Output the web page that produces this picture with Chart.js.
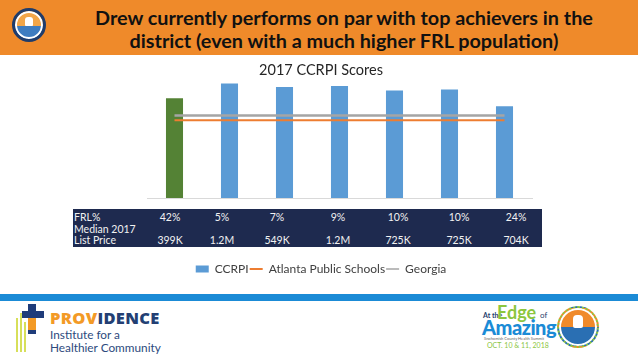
<!DOCTYPE html>
<html>
<head>
<meta charset="utf-8">
<script src="https://cdn.jsdelivr.net/npm/chart.js@4.4.1/dist/chart.umd.min.js"></script>
<style>
  html, body { margin: 0; padding: 0; }
  body { width: 638px; height: 359px; overflow: hidden; position: relative; background: #fff; font-family: Lato, "Open Sans", sans-serif; }
  .header { position: absolute; left: 0; top: 0; width: 638px; height: 55px; background: #ef8a2a; }
  .header h1 { position: absolute; left: 50px; right: 0; top: 6px; margin: 0; text-align: center; font-size: 19.8px; line-height: 23px; font-weight: 700; color: #111; }
  .seal { position: absolute; left: 12px; top: 8px; width: 28px; height: 28px; border-radius: 50%; border: 3px solid #1f3c6b;
    background: linear-gradient(#f2a649 0 52%, #3d7cc0 52% 100%); box-shadow: inset 0 0 0 2px #fff; }
  .seal i { position: absolute; left: 10px; top: 6px; width: 8px; height: 9px; background: #fff; border-radius: 3px 3px 1px 1px; }
  #chartBox { position: absolute; left: 0; top: 55px; width: 642px; height: 230px; }
  .ftable { position: absolute; left: 73px; top: 209px; width: 469px; height: 38px; background: #1e2a4f; color: #f2f2f2; font-size: 10.5px; line-height: 11.5px; }
  .ftable span { position: absolute; white-space: nowrap; }
  .band { position: absolute; left: 0; top: 294px; width: 638px; height: 7px; background: #1b8bd6; }
  .prov { position: absolute; left: 50px; top: 309px; color: #233f73; }
  .prov b { display: block; font-family: "Open Sans", sans-serif; font-weight: 800; font-size: 16.5px; line-height: 18px; letter-spacing: 0.3px; margin-bottom: 1px; }
  .prov b em { font-style: normal; color: #f39a26; }
  .prov div { font-size: 11.8px; line-height: 13px; color: #2d4a7d; }
  .cross { position: absolute; left: 22px; top: 304px; }
  .cross .v { position: absolute; left: 6px; top: 0; width: 8px; height: 30px; background: #1f3c7a; }
  .cross .h { position: absolute; left: 0; top: 7px; width: 22px; height: 7px; background: #1f3c7a; }
  .cross .o { position: absolute; left: 6px; top: 14px; width: 8px; height: 12px; background: #f39a26; }
  .stem { position: absolute; width: 2px; background: #d7df5a; }
  .edge { position: absolute; left: 482px; top: 303px; width: 80px; height: 48px; }
  .edge .at { position: absolute; left: 1px; top: 8px; font-size: 7px; font-weight: 700; color: #1f3c6b; }
  .edge .eg { position: absolute; left: 15px; top: 0; font-size: 18px; font-weight: 700; color: #8cc63f; line-height: 18px; }
  .edge .of { position: absolute; left: 58px; top: 7px; font-size: 8px; color: #1f3c6b; }
  .edge .am { position: absolute; left: 0; top: 14px; font-size: 20px; font-weight: 900; color: #1b8bd6; line-height: 20px; letter-spacing: -0.5px; }
  .edge .sm { position: absolute; left: 2px; top: 33px; font-size: 4px; color: #666; }
  .edge .dt { position: absolute; left: 5px; top: 38px; font-size: 7px; color: #8cc63f; }
  .ring { position: absolute; left: 557px; top: 306px; width: 38px; height: 38px; border-radius: 50%; border: 2px dotted #8cc63f;
    background: linear-gradient(#f08a2a 0 50%, #2a6fb3 50% 100%); box-shadow: inset 0 0 0 2px #fff; }
  .ring i { position: absolute; left: 14px; top: 7px; width: 10px; height: 13px; background: #fff; border-radius: 4px 4px 2px 2px; }
</style>
</head>
<body>
<div class="header">
  <div class="seal"><i></i></div>
  <h1>Drew currently performs on par with top achievers in the<br>district (even with a much higher FRL population)</h1>
</div>
<div id="chartBox"><canvas id="ccrpiChart" width="642" height="230"></canvas></div>
<div class="ftable" id="frlTable"></div>
<div class="band"></div>
<div class="stem" style="left:16px;top:318px;height:34px"></div>
<div class="stem" style="left:20px;top:313px;height:39px"></div>
<div class="stem" style="left:24px;top:322px;height:30px"></div>
<div class="cross"><div class="v"></div><div class="h"></div><div class="o"></div></div>
<div class="prov">
  <b><em>PROV</em>IDENCE</b>
  <div>Institute for a</div>
  <div>Healthier Community</div>
</div>
<div class="edge">
  <span class="at">At the</span><span class="eg">Edge</span><span class="of">of</span>
  <span class="am">Amazing</span>
  <span class="sm">Snohomish County Health Summit</span>
  <span class="dt">OCT. 10 &amp; 11, 2018</span>
</div>
<div class="ring"><i></i></div>

<script>
const frlPct = ['42%', '5%', '7%', '9%', '10%', '10%', '24%'];
const listPrice = ['399K', '1.2M', '549K', '1.2M', '725K', '725K', '704K'];
const rowHeads = ['FRL%', 'Median 2017', 'List Price'];
const ccrpi = [87.4, 100.4, 97.4, 98.3, 94.3, 95.2, 80.5];
const apsScore = [68.1, 68.1, 68.1, 68.1, 68.1, 68.1, 68.1];
const gaScore = [72.3, 72.3, 72.3, 72.3, 72.3, 72.3, 72.3];

const GREEN = '#548235';
const BLUE = '#5b9bd5';
const ORANGE = '#ed7d31';
const GRAY = '#a5a5a5';

// table column centres (page px), the pasted table does not line up with the bars
const colCenters = [170, 222, 277, 338, 398, 459, 516];

const table = document.getElementById('frlTable');
rowHeads.forEach((txt, r) => {
  table.insertAdjacentHTML('beforeend', `<span style="left:1px;top:${3 + r * 11.5}px">${txt}</span>`);
});
frlPct.forEach((txt, i) => {
  table.insertAdjacentHTML('beforeend', `<span style="left:${colCenters[i] - 73}px;top:3px;transform:translateX(-50%)">${txt}</span>`);
});
listPrice.forEach((txt, i) => {
  table.insertAdjacentHTML('beforeend', `<span style="left:${colCenters[i] - 73}px;top:26px;transform:translateX(-50%)">${txt}</span>`);
});

const barColors = ccrpi.map((_, i) => (i === 0 ? GREEN : BLUE));

new Chart(document.getElementById('ccrpiChart'), {
  type: 'bar',
  data: {
    labels: frlPct,
    datasets: [
      {
        type: 'bar',
        label: 'CCRPI',
        data: ccrpi,
        backgroundColor: barColors,
        barPercentage: 0.31,
        categoryPercentage: 1,
        order: 1,
      },
      {
        type: 'line',
        label: 'Atlanta Public Schools',
        data: apsScore,
        borderColor: ORANGE,
        borderWidth: 2,
        pointRadius: 0,
        pointStyle: 'line',
        pointBorderWidth: 2,
        order: 0,
      },
      {
        type: 'line',
        label: 'Georgia',
        data: gaScore,
        borderColor: GRAY,
        borderWidth: 2.5,
        pointRadius: 0,
        pointStyle: 'line',
        pointBorderWidth: 1.5,
        order: 0,
      },
    ],
  },
  options: {
    responsive: false,
    animation: false,
    layout: { padding: 0 },
    plugins: {
      title: {
        display: true,
        text: '2017 CCRPI Scores',
        color: '#262626',
        font: { family: 'Lato', size: 14.5, weight: 'normal' },
        padding: { top: 7, bottom: 0 },
      },
      legend: {
        position: 'bottom',
        labels: {
          usePointStyle: true,
          pointStyleWidth: 13,
          boxHeight: 7,
          padding: 1,
          color: '#404040',
          font: { family: 'Lato', size: 12 },
          sort: (a, b) => a.datasetIndex - b.datasetIndex,
          generateLabels: (chart) =>
            Chart.defaults.plugins.legend.labels.generateLabels(chart).map((item) =>
              item.datasetIndex === 0
                ? { ...item, fillStyle: BLUE, strokeStyle: BLUE, pointStyle: 'rect', lineWidth: 0 }
                : item
            ),
        },
      },
      tooltip: { enabled: false },
    },
    scales: {
      x: {
        grid: { display: false },
        border: { color: '#d9d9d9' },
        ticks: { display: false },
        afterFit: (s) => { s.height = 64; },
      },
      y: {
        min: 0,
        max: 104,
        grid: { display: false },
        border: { display: false },
        ticks: { display: false },
        afterFit: (s) => { s.width = 147; },
      },
      y2: {
        position: 'right',
        min: 0,
        max: 104,
        grid: { display: false },
        border: { display: false },
        ticks: { display: false },
        afterFit: (s) => { s.width = 110; },
      },
    },
  },
});
</script>
</body>
</html>
